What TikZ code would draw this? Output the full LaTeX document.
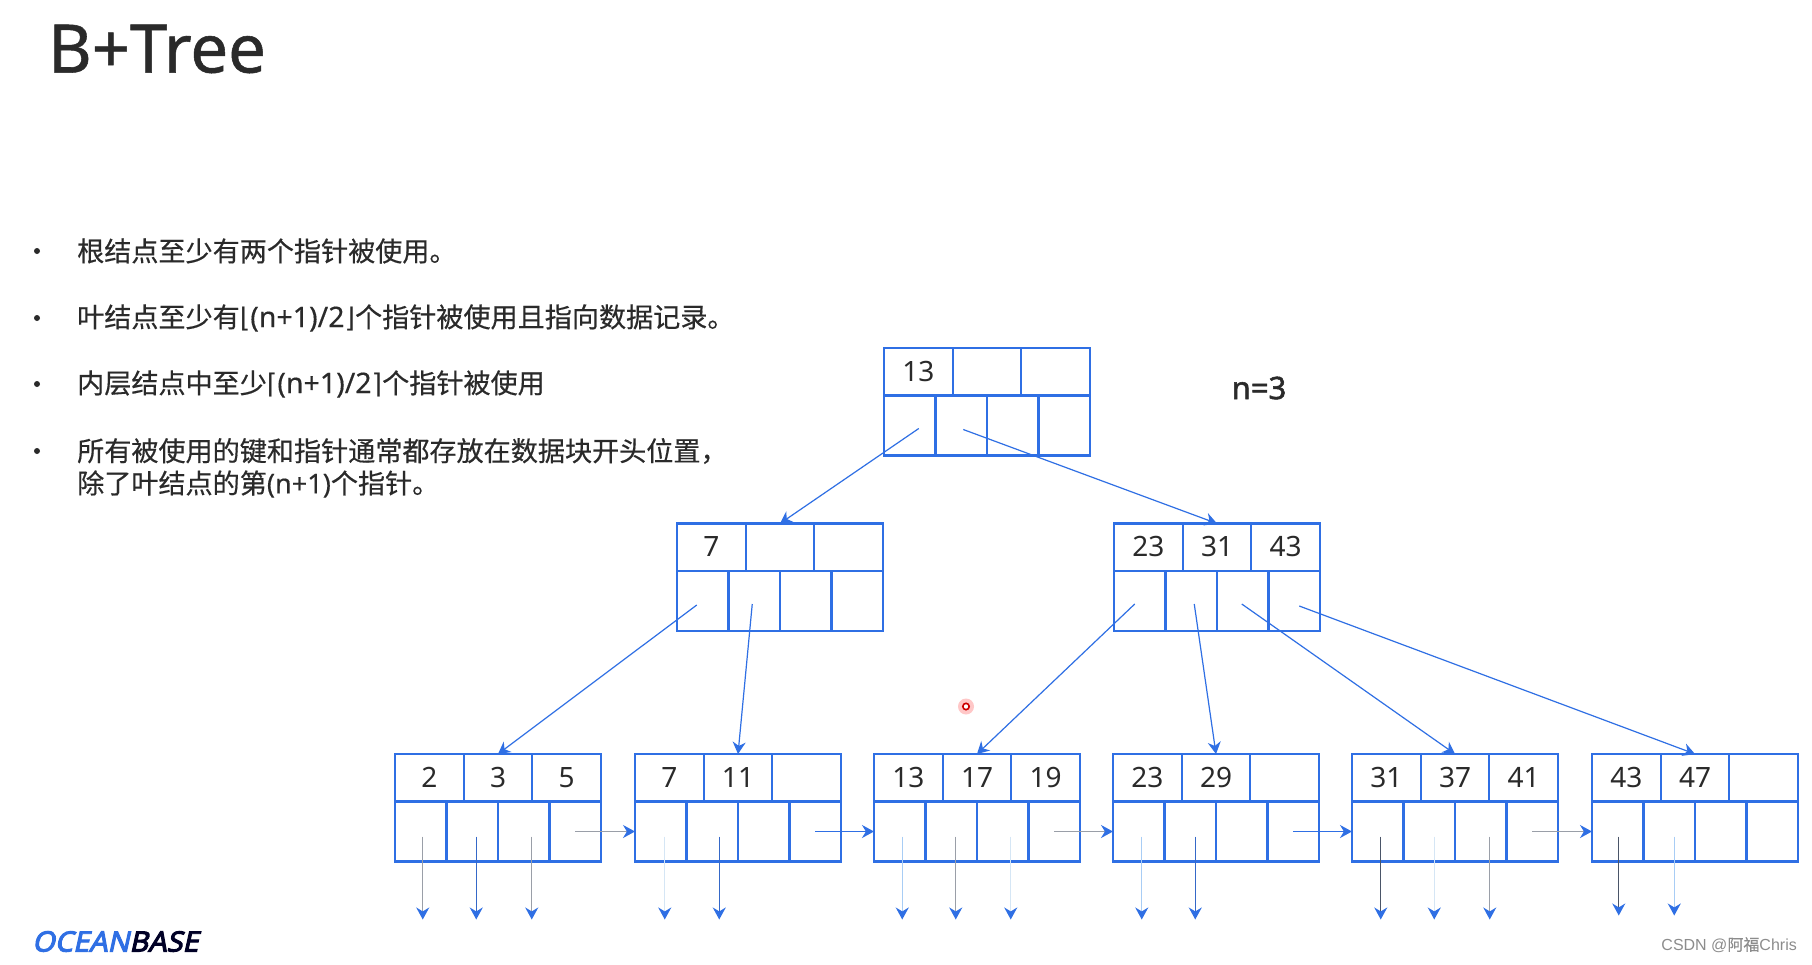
\documentclass[tikz,border=0pt]{standalone}
\usepackage{fontspec}
\setmainfont{Noto Sans}
\newfontfamily\cjkf{Noto Sans CJK SC}[FakeBold=0.4]
\newfontfamily\symf{DejaVu Sans}
\newfontfamily\wmf{Liberation Sans}
\newfontfamily\latf{Noto Sans}[FakeBold=0.4]
\newfontfamily\titlef{Noto Sans}[FakeBold=0.8]
\newfontfamily\boldf{Noto Sans}[FakeBold=1.6]
\newfontfamily\logof{Noto Sans}[FakeBold=3.5,FakeSlant=0.22,FakeStretch=1.03]
\usetikzlibrary{arrows.meta}
\definecolor{bpblue}{HTML}{2F6FE4}
\definecolor{bptext}{HTML}{2A2A2A}
\definecolor{arrgray}{HTML}{9A9FA8}
\definecolor{arrdark}{HTML}{4A5568}
\definecolor{arrblue}{HTML}{3568C8}
\definecolor{arrlight}{HTML}{A8CDF5}
\definecolor{arrpale}{HTML}{D5E6F5}
\tikzset{
  x=1pt,y=-1pt,
  keycell/.style={draw=bpblue,line width=2.2pt,minimum width=68.67pt,minimum height=47.5pt,inner sep=0pt,outer sep=0pt,anchor=north west,text=bptext,font=\fontsize{28}{30}\selectfont},
  ptrcell/.style={draw=bpblue,line width=2.2pt,minimum width=51.5pt,minimum height=60pt,inner sep=0pt,outer sep=0pt,anchor=north west},
  link/.style={draw=#1,line width=1.2pt,-{Stealth[length=12pt,width=13pt,color=bpblue]}},
  link/.default=bpblue,
  bullettext/.style={anchor=west,inner sep=0pt,text=bptext,font=\cjkf\fontsize{27.1}{30}\selectfont},
  bulletdot/.style={circle,fill=bptext,inner sep=0pt,minimum size=6pt},
}
\newcommand{\bpnode}[6]{%
  \node[keycell] (#1-k1) at (#2,#3) {\raisebox{1pt}{#4}};
  \node[keycell] (#1-k2) at (#2+68.67,#3) {\raisebox{1pt}{#5}};
  \node[keycell] (#1-k3) at (#2+137.33,#3) {\raisebox{1pt}{#6}};
  \node[ptrcell] (#1-p1) at (#2,#3+47.5) {};
  \node[ptrcell] (#1-p2) at (#2+51.5,#3+47.5) {};
  \node[ptrcell] (#1-p3) at (#2+103,#3+47.5) {};
  \node[ptrcell] (#1-p4) at (#2+154.5,#3+47.5) {};
}
\newcommand{\bpdown}[5][88]{%
  \coordinate (#2-#3-end) at ([xshift=#4pt,yshift=-#1pt]#2-#3.center);
  \draw[link=#5] ([xshift=#4pt,yshift=-5pt]#2-#3.center) -- (#2-#3-end);
}
\begin{document}
\begin{tikzpicture}
\useasboundingbox (0,0) rectangle (1812,964);
\fill[white] (0,0) rectangle (1812,964);

\node[anchor=west,inner sep=0pt,text=bptext,font=\titlef\fontsize{67}{72}\selectfont] (title) at (48,49) {B+Tree};

\node[bulletdot] (b1) at (37,251) {};
\node[bulletdot] (b2) at (37,318) {};
\node[bulletdot] (b3) at (37,384) {};
\node[bulletdot] (b4) at (37,451) {};
\node[bullettext] (t1) at (77,251) {根结点至少有两个指针被使用。};
\node[bullettext] (t2) at (77,318) {叶结点至少有{\symf\fontsize{27}{28}\selectfont⌊}{\latf\fontsize{28.5}{30}\selectfont(n+1)/2}{\symf\fontsize{27}{28}\selectfont⌋}个指针被使用且指向数据记录。};
\node[bullettext] (t3) at (77,384) {内层结点中至少{\symf\fontsize{27}{28}\selectfont⌈}{\latf\fontsize{28.5}{30}\selectfont(n+1)/2}{\symf\fontsize{27}{28}\selectfont⌉}个指针被使用};
\node[bullettext] (t4) at (77,451) {所有被使用的键和指针通常都存放在数据块开头位置，};
\node[bullettext] (t5) at (77,484) {除了叶结点的第{\latf(n+1)}个指针。};

\node[inner sep=0pt,text=bptext,font=\boldf\fontsize{31}{33}\selectfont] (nlabel) at (1259,388) {n=3};

\bpnode{root}{884}{348}{13}{}{}
\bpnode{lft}{677}{523.5}{7}{}{}
\bpnode{rgt}{1114}{523.5}{23}{31}{43}
\bpnode{la}{395}{754}{2}{3}{5}
\bpnode{lb}{635}{754}{7}{11}{}
\bpnode{lc}{874}{754}{13}{17}{19}
\bpnode{ld}{1113}{754}{23}{29}{}
\bpnode{le}{1352}{754}{31}{37}{41}
\bpnode{lf}{1592}{754}{43}{47}{}

\draw[link] ([xshift=9pt,yshift=-3pt]root-p1.center) -- (lft-k2.north);
\draw[link] ([xshift=2pt,yshift=-4pt]root-p2.center) -- (rgt-k2.north);
\draw[link] ([xshift=-6pt,yshift=-4pt]lft-p1.center) -- (la-k2.north);
\draw[link] ([xshift=-2pt,yshift=-3pt]lft-p2.center) -- (lb-k2.north);
\draw[link] ([xshift=-5pt,yshift=-3pt]rgt-p1.center) -- (lc-k2.north);
\draw[link] ([xshift=3pt,yshift=-3pt]rgt-p2.center) -- (ld-k2.north);
\draw[link] ([xshift=-1pt,yshift=-3pt]rgt-p3.center) -- (le-k2.north);
\draw[link] ([xshift=5pt,yshift=-5pt]rgt-p4.center) -- (lf-k2.north);

\draw[link=arrgray] (la-p4.center) -- (lb-p1.west);
\draw[link] (lb-p4.center) -- (lc-p1.west);
\draw[link=arrgray] (lc-p4.center) -- (ld-p1.west);
\draw[link] (ld-p4.center) -- (le-p1.west);
\draw[link=arrgray] (le-p4.center) -- (lf-p1.west);

\bpdown{la}{p1}{2}{arrgray}
\bpdown{la}{p2}{4}{arrblue}
\bpdown{la}{p3}{8}{arrgray}
\bpdown{lb}{p1}{4}{arrpale}
\bpdown{lb}{p2}{7}{arrblue}
\bpdown{lc}{p1}{2.5}{arrlight}
\bpdown{lc}{p2}{4.5}{arrgray}
\bpdown{lc}{p3}{8}{arrpale}
\bpdown{ld}{p1}{3}{arrlight}
\bpdown{ld}{p2}{5}{arrblue}
\bpdown{le}{p1}{3}{arrdark}
\bpdown{le}{p2}{5}{arrpale}
\bpdown{le}{p3}{9}{arrgray}
\bpdown[84]{lf}{p1}{1}{arrdark}
\bpdown[84]{lf}{p2}{5}{arrlight}

\fill[red!22] (966,706.5) circle (8);
\draw[red!80!black,line width=1.6pt,fill=white] (966,706.5) circle (3.2);

\node[anchor=west,inner sep=0pt,font=\logof\fontsize{28}{30}\selectfont] (logo) at (32,941.5) {\textcolor{bpblue}{OCEAN}\textcolor{black!85!blue}{BASE}};

\node[anchor=east,inner sep=0pt,text=black!45,font=\wmf\fontsize{16}{20}\selectfont] (wm) at (1797,945) {CSDN @{\cjkf 阿福}Chris};
\end{tikzpicture}
\end{document}
